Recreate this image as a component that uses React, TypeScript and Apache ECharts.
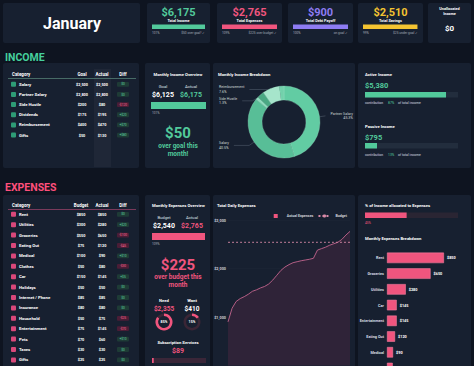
import React, { useEffect, useRef } from 'react';
import * as echarts from 'echarts';

const monthName = 'January';

const incomeCategories = ['Salary', 'Partner Salary', 'Side Hustle', 'Dividends', 'Reimbursement', 'Gifts'];
const incomeGoal = [2500, 2800, 200, 175, 400, 50];
const incomeActual = [2500, 2800, 80, 195, 470, 130];
const activeIncomeCategories = ['Salary', 'Partner Salary', 'Side Hustle'];

const expenseCategories = ['Rent', 'Utilities', 'Groceries', 'Eating Out', 'Medical', 'Clothes', 'Car', 'Holidays', 'Internet / Phone', 'Insurance', 'Household', 'Entertainment', 'Pets', 'Taxes', 'Gifts'];
const expenseBudget = [850, 300, 550, 75, 100, 50, 150, 50, 85, 80, 50, 75, 70, 30, 25];
const expenseActual = [850, 280, 650, 120, 90, 80, 145, 50, 85, 80, 75, 145, 60, 30, 25];

const needTotal = 2355;
const wantTotal = 410;
const subscriptionServices = 89;
const debtPayoffActual = 900;
const debtPayoffGoal = 900;
const savingsActual = 2510;
const savingsGoal = 2535;

const days = ['1', '2', '3', '4', '5', '6', '7', '8', '9', '10', '11', '12', '13', '14', '15', '16', '17', '18', '19', '20', '21', '22', '23', '24', '25', '26', '27', '28', '29', '30', '31'];
const dailyCumulativeExpenses = [900, 1180, 1320, 1380, 1420, 1470, 1530, 1560, 1600, 1630, 1680, 1760, 1860, 1960, 2030, 2080, 2120, 2140, 2160, 2175, 2190, 2210, 2380, 2410, 2440, 2480, 2510, 2540, 2600, 2690, 2765];
const dailyAxisMax = 3000;
const dailyAxisInterval = 1000;
const breakdownVisibleRows = 7;

const C = {
  bg: '#0e1420',
  panel: '#172030',
  green: '#52c99b',
  pink: '#f0557e',
  purple: '#8e7cf3',
  yellow: '#f3c331',
  white: '#ffffff',
  muted: '#a3abb8',
};
const F = 'Roboto, "Noto Sans", sans-serif';

const sum = (a: number[]) => a.reduce((s, v) => s + v, 0);
const fmt = (v: number) => '$' + v.toLocaleString('en-US');
const diffFmt = (d: number) => (d === 0 ? '$0' : (d > 0 ? '+$' : '-$') + Math.abs(d).toLocaleString('en-US'));

function txt(text: string, x: number, y: number, size: number, fill = C.white, align = 'left', weight: any = 'bold') {
  return {
    type: 'text', x, y, silent: true,
    style: { text, fill, fontSize: size, fontWeight: weight, fontFamily: F, textAlign: align, textVerticalAlign: 'middle' },
  };
}
function rect(x: number, y: number, w: number, h: number, fill: string, r = 2) {
  return { type: 'rect', silent: true, shape: { x, y, width: w, height: h, r }, style: { fill } };
}

function buildOption() {
  const grids: any[] = [];
  const xAxes: any[] = [];
  const yAxes: any[] = [];
  const series: any[] = [];
  const g: any[] = [];

  const addProgress = (left: number, top: number, width: number, height: number, value: number, max: number, color: string, track?: string) => {
    const i = grids.length;
    grids.push({ left, top, width, height, outerBoundsMode: 'none' });
    xAxes.push({ gridIndex: i, type: 'value', min: 0, max, show: false });
    yAxes.push({ gridIndex: i, type: 'category', data: [''], show: false });
    series.push({
      type: 'bar', xAxisIndex: i, yAxisIndex: i, data: [value], barWidth: height, silent: true,
      showBackground: !!track, backgroundStyle: { color: track || 'transparent' },
      itemStyle: { color },
    });
  };

  const totalIncome = sum(incomeActual);
  const totalGoal = sum(incomeGoal);
  const totalExpenses = sum(expenseActual);
  const totalBudget = sum(expenseBudget);
  const unallocated = totalIncome - totalExpenses - debtPayoffActual - savingsActual;
  const activeIncome = sum(incomeActual.filter((_, i) => activeIncomeCategories.includes(incomeCategories[i])));
  const passiveIncome = totalIncome - activeIncome;
  const pct = (a: number, b: number) => Math.round((a / b) * 100) + '%';

  // Panels
  g.push(rect(3, 3, 137, 40, C.panel));
  const cardX = [147, 217, 288, 358];
  const cardW = [63, 65, 65, 65];
  cardX.forEach((x, i) => g.push(rect(x, 3, cardW[i], 40, C.panel)));
  g.push(rect(428, 3, 43, 40, C.panel));
  g.push(rect(3, 63, 136, 105, C.panel));
  g.push(rect(145, 63, 65, 105, C.panel));
  g.push(rect(213, 63, 142, 105, C.panel));
  g.push(rect(358, 63, 113, 105, C.panel));
  g.push(rect(3, 195, 136, 175, C.panel));
  g.push(rect(145, 195, 65, 175, C.panel));
  g.push(rect(213, 195, 142, 175, C.panel));
  g.push(rect(358, 195, 113, 175, C.panel));

  g.push(txt(monthName, 72, 23, 16, C.white, 'center'));

  // KPI cards
  const cards = [
    { v: totalIncome, goal: totalGoal, label: 'Total Income', color: C.green, note: fmt(totalIncome - totalGoal) + ' over goal! ✓' },
    { v: totalExpenses, goal: totalBudget, label: 'Total Expenses', color: C.pink, note: fmt(totalExpenses - totalBudget) + ' over budget ✓' },
    { v: debtPayoffActual, goal: debtPayoffGoal, label: 'Total Debt Payoff', color: C.purple, note: 'on goal ✓' },
    { v: savingsActual, goal: savingsGoal, label: 'Total Savings', color: C.yellow, note: fmt(savingsGoal - savingsActual) + ' under goal ✓' },
  ];
  cards.forEach((c, i) => {
    const x = cardX[i];
    const w = cardW[i];
    const cx = x + w / 2;
    g.push(txt(fmt(c.v), cx, 12, 11, c.color, 'center'));
    g.push(txt(c.label, cx, 20.5, 3.8, C.white, 'center'));
    addProgress(x + 5, 24.5, w - 10, 4.5, c.v, Math.max(c.v, c.goal), c.color);
    g.push(txt(pct(c.v, c.goal), x + 5, 33, 3.2, C.muted, 'left', 'normal'));
    g.push(txt(c.note, x + w - 5, 33, 3.2, C.muted, 'right', 'normal'));
  });
  g.push(txt('Unallocated', 449.5, 8.5, 3.8, C.white, 'center'));
  g.push(txt('Income', 449.5, 13, 3.8, C.white, 'center'));
  g.push(txt(fmt(unallocated), 449.5, 28, 8, C.white, 'center'));

  // Section titles
  g.push(txt('INCOME', 5, 57, 10.5, '#45d09d'));
  g.push(txt('EXPENSES', 5, 187, 10.5, '#ff4f7b'));

  // Income table
  g.push(rect(94, 69, 17, 98, 'rgba(255,255,255,0.035)', 0));
  g.push(txt('Category', 12, 74, 4.5));
  g.push(txt('Goal', 82, 74, 4.5, C.white, 'center'));
  g.push(txt('Actual', 102, 74, 4.5, C.white, 'center'));
  g.push(txt('Diff', 123, 74, 4.5, C.white, 'center'));
  g.push({ type: 'line', silent: true, shape: { x1: 8, y1: 78.5, x2: 136, y2: 78.5 }, style: { stroke: '#5b8c7e', lineWidth: 0.7 } });
  incomeCategories.forEach((name, i) => {
    const y = 84.3 + i * 10.15;
    const d = incomeActual[i] - incomeGoal[i];
    g.push(rect(11, y - 2.5, 5, 5, '#2e9c76', 1));
    g.push(txt(name, 19, y, 4.3));
    g.push(txt(fmt(incomeGoal[i]), 82, y, 3.8, C.white, 'center'));
    g.push(txt(fmt(incomeActual[i]), 102, y, 3.8, C.white, 'center'));
    g.push(rect(117, y - 2.4, 12, 4.8, d < 0 ? '#4a1d36' : '#1e3b36', 1));
    g.push(txt(diffFmt(d), 123, y, 3.2, d < 0 ? '#ff6b93' : '#5fd3a5', 'center', 'normal'));
  });

  // Monthly income overview
  g.push(txt('Monthly Income Overview', 178, 74, 4.2, C.white, 'center'));
  g.push(txt('Goal', 163, 86, 4.2, '#dfe3ea', 'center', 'normal'));
  g.push(txt('Actual', 191, 86, 4.2, '#dfe3ea', 'center', 'normal'));
  g.push(txt(fmt(totalGoal), 163, 95, 7, C.white, 'center'));
  g.push(txt(fmt(totalIncome), 191, 95, 7, C.green, 'center'));
  addProgress(151, 102, 55, 7, totalIncome, Math.max(totalIncome, totalGoal), C.green);
  g.push(txt(pct(totalIncome, totalGoal), 152, 112.5, 3.2, C.muted, 'left', 'normal'));
  g.push(txt(fmt(totalIncome - totalGoal), 178, 133, 15, C.green, 'center'));
  g.push(txt('over goal this', 178, 146, 6.5, C.green, 'center'));
  g.push(txt('month!', 178, 154, 6.5, C.green, 'center'));

  // Income breakdown title
  g.push(txt('Monthly Income Breakdown', 218, 74, 4.2));

  // Active / passive
  g.push(txt('Active Income', 365, 74, 4.2));
  g.push(txt(fmt(activeIncome), 365, 85, 7.5, C.green));
  addProgress(365, 92, 93, 5.5, activeIncome, totalIncome, C.green, '#222d3d');
  g.push(txt('contribution', 365, 103, 3.4, '#d7dbe2', 'left', 'normal'));
  g.push(txt(pct(activeIncome, totalIncome), 388, 103, 3.4, C.green, 'left', 'normal'));
  g.push(txt('of total income', 398, 103, 3.4, '#d7dbe2', 'left', 'normal'));
  g.push(txt('Passive Income', 365, 126, 4.2));
  g.push(txt(fmt(passiveIncome), 365, 137, 7.5, C.green));
  addProgress(365, 143, 93, 5.5, passiveIncome, totalIncome, C.green, '#222d3d');
  g.push(txt('contribution', 365, 155, 3.4, '#d7dbe2', 'left', 'normal'));
  g.push(txt(pct(passiveIncome, totalIncome), 388, 155, 3.4, C.green, 'left', 'normal'));
  g.push(txt('of total income', 398, 155, 3.4, '#d7dbe2', 'left', 'normal'));

  // Expenses table
  g.push(txt('Category', 12, 205, 4.5));
  g.push(txt('Budget', 81, 205, 4.5, C.white, 'center'));
  g.push(txt('Actual', 102, 205, 4.5, C.white, 'center'));
  g.push(txt('Diff', 123, 205, 4.5, C.white, 'center'));
  g.push({ type: 'line', silent: true, shape: { x1: 8, y1: 209.5, x2: 136, y2: 209.5 }, style: { stroke: '#a4466f', lineWidth: 0.7 } });
  expenseCategories.forEach((name, i) => {
    const y = 214.3 + i * 10.4;
    const d = expenseBudget[i] - expenseActual[i];
    g.push(rect(11, y - 2.5, 5, 5, '#d9487a', 1));
    g.push(txt(name, 19, y, 4.3));
    g.push(txt(fmt(expenseBudget[i]), 81, y, 3.8, C.white, 'center'));
    g.push(txt(fmt(expenseActual[i]), 102, y, 3.8, C.white, 'center'));
    g.push(rect(117, y - 2.4, 12, 4.8, d < 0 ? '#4a1d36' : '#1e3b36', 1));
    g.push(txt(diffFmt(d), 123, y, 3.2, d < 0 ? '#ff6b93' : '#5fd3a5', 'center', 'normal'));
  });

  // Monthly expenses overview
  g.push(txt('Monthly Expenses Overview', 152, 205, 4.2));
  g.push(txt('Budget', 164, 217, 4.2, '#dfe3ea', 'center', 'normal'));
  g.push(txt('Actual', 192, 217, 4.2, '#dfe3ea', 'center', 'normal'));
  g.push(txt(fmt(totalBudget), 164, 225.5, 7, C.white, 'center'));
  g.push(txt(fmt(totalExpenses), 192, 225.5, 7, C.pink, 'center'));
  addProgress(152, 233, 53, 7, totalExpenses, Math.max(totalExpenses, totalBudget), C.pink);
  g.push(txt(pct(totalExpenses, totalBudget), 152, 243.5, 3.2, C.muted, 'left', 'normal'));
  g.push(txt(fmt(totalExpenses - totalBudget), 178, 265, 15, C.pink, 'center'));
  g.push(txt('over budget this', 178, 277, 6.5, C.pink, 'center'));
  g.push(txt('month', 178, 285, 6.5, C.pink, 'center'));
  g.push(txt('Need', 164, 300, 4.2, C.white, 'center'));
  g.push(txt('Want', 192, 300, 4.2, C.white, 'center'));
  g.push(txt(fmt(needTotal), 164, 309, 6.5, C.pink, 'center'));
  g.push(txt(fmt(wantTotal), 192, 309, 6.5, C.white, 'center'));
  g.push(txt('Subscription Services', 178, 342, 4.2, C.white, 'center'));
  g.push(txt(fmt(subscriptionServices), 178, 350.5, 7, C.pink, 'center'));
  addProgress(152, 358, 54, 5, subscriptionServices, totalExpenses, C.pink, '#3a2638');

  // Daily expenses title
  g.push(txt('Total Daily Expenses', 217, 205, 4.2));

  // % income to expenses
  g.push(txt('% of Income allocated to Expenses', 365, 205, 4.2));
  addProgress(365, 212.5, 93, 5.5, totalExpenses, totalIncome, C.pink, '#2a2533');
  g.push(txt(pct(totalExpenses, totalIncome), 365, 223, 3.2, C.pink, 'left', 'normal'));
  g.push(txt('Monthly Expenses Breakdown', 365, 238, 4.2));

  // Breakdown bar chart (rows below the page edge are clipped, as in the reference)
  const order = expenseCategories.map((_, i) => i).sort((a, b) => expenseActual[b] - expenseActual[a]);
  const bi = grids.length;
  grids.push({ left: 387, top: 250, width: 67, height: 236, outerBoundsMode: 'none' });
  xAxes.push({ gridIndex: bi, type: 'value', min: 0, max: 1000, show: false });
  yAxes.push({
    gridIndex: bi, type: 'category', inverse: true, data: order.map((i) => expenseCategories[i]),
    axisLine: { show: false }, axisTick: { show: false },
    axisLabel: {
      fontSize: 3.8, color: '#d8dce4', margin: 3, fontFamily: F, fontWeight: 'bold',
      interval: (idx: number) => idx < breakdownVisibleRows,
    },
  });
  series.push({
    type: 'bar', xAxisIndex: bi, yAxisIndex: bi, barWidth: 10.5,
    data: order.map((i, k) => ({ value: expenseActual[i], label: { show: k < breakdownVisibleRows } })),
    itemStyle: { color: C.pink, borderColor: '#ff86a6', borderWidth: 0.5 },
    label: { show: true, position: 'right', distance: 3, fontSize: 3.8, color: '#fff', fontWeight: 'bold', fontFamily: F, formatter: (p: any) => fmt(p.value) },
  });

  // Daily cumulative expenses
  const di = grids.length;
  grids.push({ left: 228, top: 220, width: 122, height: 145.5, outerBoundsMode: 'none' });
  xAxes.push({
    gridIndex: di, type: 'category', data: days, boundaryGap: false,
    axisLine: { show: false }, axisTick: { show: false }, axisLabel: { show: false },
  });
  yAxes.push({
    gridIndex: di, type: 'value', min: 0, max: dailyAxisMax, interval: dailyAxisInterval,
    axisLine: { show: false }, axisTick: { show: false },
    splitLine: { lineStyle: { color: 'rgba(255,255,255,0.03)', width: 0.5 } },
    axisLabel: { fontSize: 3.8, color: '#c8ccd4', margin: 2, fontFamily: F, fontWeight: 'bold', showMinLabel: false, formatter: (v: number) => fmt(v) },
  });
  series.push({
    name: 'Actual Expenses', type: 'line', xAxisIndex: di, yAxisIndex: di, data: dailyCumulativeExpenses,
    symbol: 'none', lineStyle: { color: '#c3648d', width: 0.9 }, itemStyle: { color: C.pink },
    areaStyle: { color: '#2f2338', opacity: 1 },
  });
  series.push({
    name: 'Budget', type: 'line', xAxisIndex: di, yAxisIndex: di, data: days.map(() => totalBudget),
    symbol: 'none', lineStyle: { color: '#d98aa8', width: 0.9, type: [2, 2] }, itemStyle: { color: '#d98aa8' },
  });

  // Income donut
  const pieColors = ['#62cca3', '#58be97', '#8fdcbd', '#4aa883', '#a6e5cb', '#72d1ab'];
  const pieOrder = [1, 0, 2, 3, 4, 5];
  series.push({
    type: 'pie', left: 216, top: 84, width: 140, height: 76, center: [68, 38], radius: [22, 36],
    startAngle: 90, percentPrecision: 1, silent: true,
    itemStyle: { borderColor: '#9be0c4', borderWidth: 0.3 },
    label: { show: true, fontSize: 3.6, color: '#cfd6d4', fontFamily: F, formatter: '{b}\n{d}%', alignTo: 'edge', edgeDistance: 3, lineHeight: 4.5, overflow: 'none' },
    labelLine: { length: 6, length2: 8, lineStyle: { color: '#6b7785', width: 0.4 } },
    data: pieOrder.map((i, k) => ({
      name: incomeCategories[i], value: incomeActual[i],
      itemStyle: { color: pieColors[k] },
      label: { show: !(incomeCategories[i] === 'Dividends' || incomeCategories[i] === 'Gifts') },
      labelLine: { show: !(incomeCategories[i] === 'Dividends' || incomeCategories[i] === 'Gifts') },
    })),
  });

  // Need / want rings
  const ring = (cx: number, value: number) => ({
    type: 'gauge', center: [cx, 322], radius: 8.5, startAngle: 90, endAngle: -270, min: 0, max: 100,
    silent: true,
    progress: { show: true, width: 2.6, itemStyle: { color: C.pink } },
    axisLine: { lineStyle: { width: 2.6, color: [[1, '#3b2636']] } },
    pointer: { show: false }, axisTick: { show: false }, splitLine: { show: false }, axisLabel: { show: false },
    title: { show: false },
    detail: { show: true, offsetCenter: [0, 0], fontSize: 3.6, color: '#fff', fontFamily: F, fontWeight: 'bold', formatter: '{value}%' },
    data: [{ value }],
  });
  series.push(ring(164, Math.round((needTotal / (needTotal + wantTotal)) * 100)));
  series.push(ring(192, Math.round((wantTotal / (needTotal + wantTotal)) * 100)));

  return {
    animation: false,
    backgroundColor: C.bg,
    textStyle: { fontFamily: F },
    graphic: { elements: g },
    grid: grids,
    xAxis: xAxes,
    yAxis: yAxes,
    legend: {
      top: 209, right: 122, itemWidth: 12, itemHeight: 4, itemGap: 4,
      textStyle: { fontSize: 3.6, color: '#d0d4dc', fontFamily: F, fontWeight: 'bold' },
      data: [
        { name: 'Actual Expenses', icon: 'path://M0,0h10v10h-10z' },
        { name: 'Budget' },
      ],
    },
    series,
  };
}

export default function App() {
  const ref = useRef<HTMLDivElement>(null);
  useEffect(() => {
    if (!ref.current) return;
    const chart = echarts.init(ref.current, undefined, { renderer: 'svg' });
    chart.setOption(buildOption() as any);
    return () => chart.dispose();
  }, []);
  return <div ref={ref} style={{ position: 'fixed', left: 0, top: 0, width: 474, height: 366 }} />;
}
